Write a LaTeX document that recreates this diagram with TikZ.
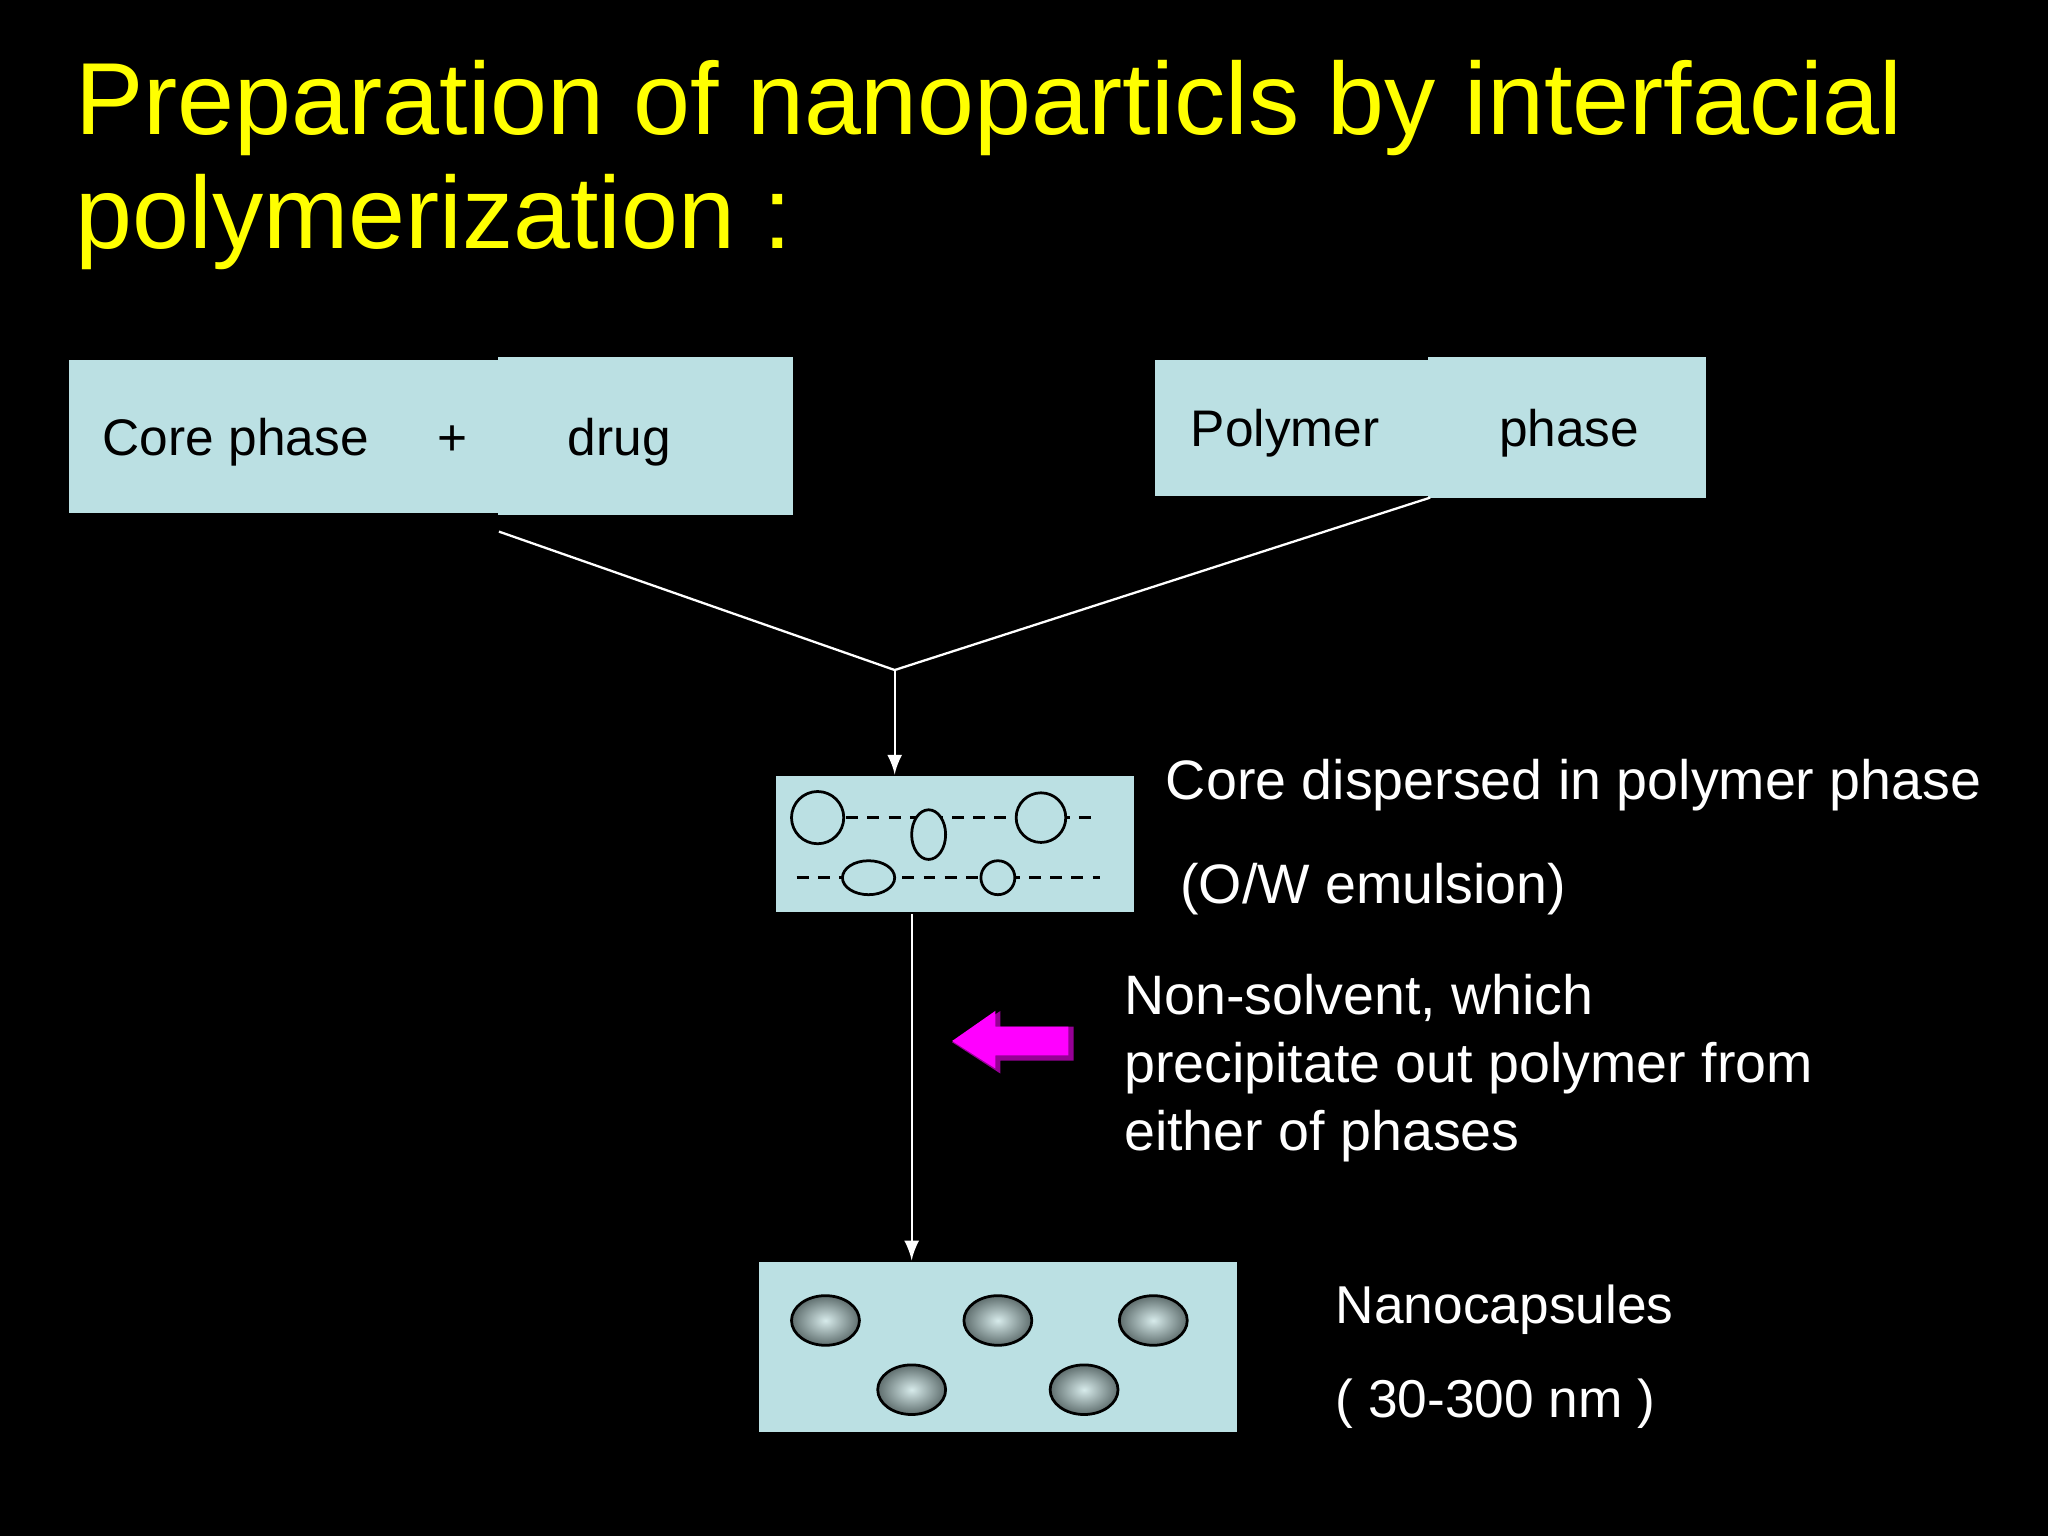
\documentclass[tikz,border=0pt]{standalone}
\usepackage{fontspec}
\setmainfont{Liberation Sans}
\definecolor{bx}{RGB}{187,224,227}
\definecolor{ttl}{RGB}{255,255,0}
\definecolor{mgd}{RGB}{150,0,150}
\definecolor{mgl}{RGB}{255,0,255}
\definecolor{capo}{RGB}{95,110,110}
\definecolor{capi}{RGB}{215,235,235}
\begin{document}
\begin{tikzpicture}[x=0.01cm,y=-0.01cm,
 box/.style={fill=bx,draw=none},
 ln/.style={draw=white,line width=0.5pt},
 wt/.style={text=white,font=\fontsize{12.1}{14}\selectfont,anchor=base west,inner sep=0},
 bt/.style={text=black,font=\fontsize{11.2}{14}\selectfont,anchor=base west,inner sep=0},
 dsh/.style={black,dash pattern=on 2.6pt off 2pt,line width=0.6pt},
 capsule/.style={draw=black,line width=0.6pt,inner color=capi,outer color=capo}]
\fill[black] (0,0) rectangle (1568,1176);
\useasboundingbox (0,0) rectangle (1568,1176);
\node[text=ttl,font=\fontsize{22.3}{30}\selectfont,anchor=base west,inner sep=0] (t1) at (57,103) {Preparation of nanoparticls by interfacial};
\node[text=ttl,font=\fontsize{22.3}{30}\selectfont,anchor=base west,inner sep=0] (t2) at (57,190) {polymerization :};
\fill[box] (53,276) rectangle (381,393);
\fill[box] (381,273) rectangle (607,394);
\node[bt] (c1) at (78,349) {Core phase};
\node[bt] (c2) at (334,349) {+};
\node[bt] (c3) at (434,349) {drug};
\fill[box] (884,276) rectangle (1093,380);
\fill[box] (1093,273) rectangle (1306,381);
\node[bt] (p1) at (911,342) {Polymer};
\node[bt] (p2) at (1147,342) {phase};
\coordinate (a) at (382,407);
\coordinate (b) at (1095,381);
\coordinate (m) at (685,513);
\coordinate (e) at (685,593);
\draw[ln] (a) -- (m) -- (b);
\draw[ln,-latex] (m) -- (e);
\fill[box] (594,594) rectangle (868,698);
\draw[dsh] (648,626) -- (842,626);
\draw[dsh] (610,672) -- (842,672);
\begin{scope}[black,line width=0.6pt]
\filldraw[fill=bx] (626,626) circle[radius=20];
\filldraw[fill=bx] (711,639) ellipse[x radius=13,y radius=19];
\filldraw[fill=bx] (797,626) circle[radius=19];
\filldraw[fill=bx] (665,672) ellipse[x radius=20,y radius=13];
\filldraw[fill=bx] (764,672) circle[radius=13];
\end{scope}
\node[wt] (d1) at (892,612) {Core dispersed in polymer phase};
\node[wt] (d2) at (903,692) {(O/W emulsion)};
\coordinate (f) at (698,700);
\coordinate (g) at (698,965);
\draw[ln,-latex] (f) -- (g);
\fill[mgd] (822,786) -- (766,786) -- (766,774) -- (729,798) -- (766,822) -- (766,812) -- (822,812) -- cycle;
\fill[mgl] (818,786) -- (762,786) -- (762,774) -- (729,797) -- (762,818) -- (762,808) -- (818,808) -- cycle;
\node[wt] (n1) at (860,777) {Non-solvent, which};
\node[wt] (n2) at (860,829) {precipitate out polymer from};
\node[wt] (n3) at (860,881) {either of phases};
\fill[box] (581,966) rectangle (947,1096);
\foreach \p in {(632,1011),(764,1011),(883,1011),(698,1064),(830,1064)}
  \draw[capsule] \p ellipse[x radius=26,y radius=19];
\node[wt,font=\fontsize{11.6}{14}\selectfont] (k1) at (1022,1013) {Nanocapsules};
\node[wt,font=\fontsize{11.6}{14}\selectfont] (k2) at (1022,1085) {( 30-300 nm )};
\end{tikzpicture}
\end{document}
